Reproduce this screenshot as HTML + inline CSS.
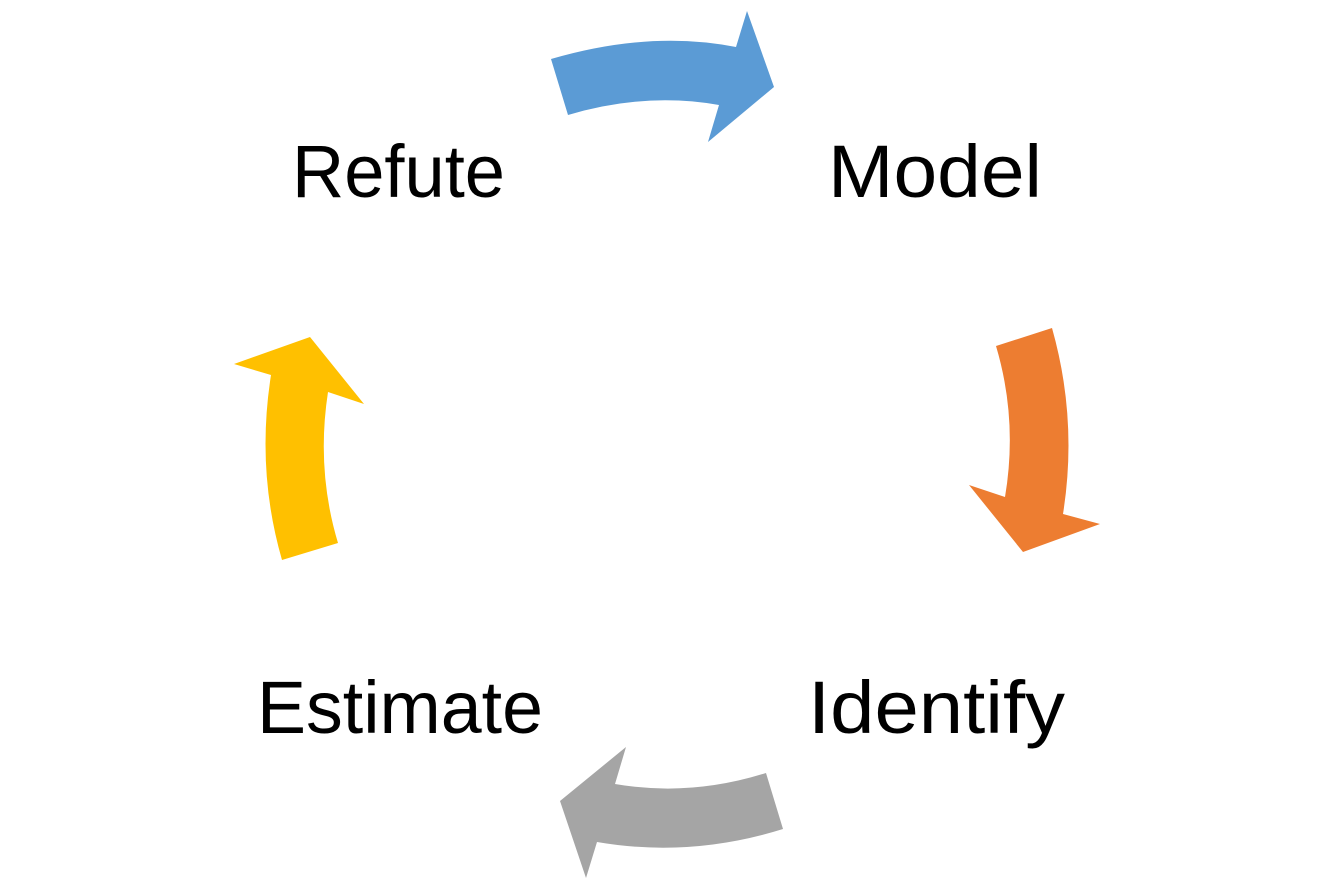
<!DOCTYPE html>
<html><head><style>html,body{margin:0;padding:0;background:#fff;}svg{display:block}</style></head>
<body>
<svg width="1334" height="889" viewBox="0 0 1334 889" xmlns="http://www.w3.org/2000/svg">
<path d="M551,59 Q650,30 736,47 L747,11 L774,87 L708,142 L719,105 Q645,92 568,115 Z" fill="#5b9bd5"/>
<path d="M996,346 L1052,328 Q1078,420 1063,514 L1100,524 L1023,552 L969,485 L1005,497 Q1018,420 996,346 Z" fill="#ed7d31"/>
<path d="M766,773 L783,829 Q690,858 597,842 L586,878 L560,801 L626,747 L615,784 Q690,797 766,773 Z" fill="#a5a5a5"/>
<path d="M282,560 L338,543 Q316,470 328,392 L364,404 L310,337 L234,364 L271,375 Q256,470 282,560 Z" fill="#ffc000"/>
<g font-family="Liberation Sans, sans-serif" font-size="74" fill="#000">
<text x="292" y="197" textLength="213" lengthAdjust="spacingAndGlyphs">Refute</text>
<text x="828" y="197" textLength="214" lengthAdjust="spacingAndGlyphs">Model</text>
<text x="257" y="733" textLength="286" lengthAdjust="spacingAndGlyphs">Estimate</text>
<text x="808" y="733" textLength="257" lengthAdjust="spacingAndGlyphs">Identify</text>
</g>
</svg>
</body></html>
